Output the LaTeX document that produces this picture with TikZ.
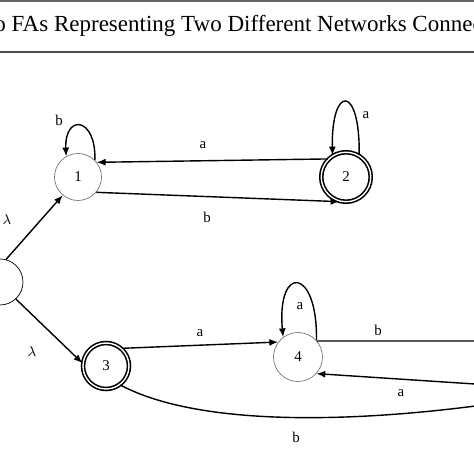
\documentclass[tikz,border=0pt]{standalone}
\usepackage{fontspec}
\setmainfont{Liberation Serif}
\usetikzlibrary{arrows.meta}
\begin{document}
\begin{tikzpicture}[x=0.02cm,y=0.02cm,
  >={Latex[length=5pt,width=4pt]},
  lbl/.style={font=\fontsize{8.5}{10}\selectfont,inner sep=1pt},
  state/.style={circle,draw=black!55,thin,inner sep=0pt,font=\fontsize{8.5}{10}\selectfont},
  accept/.style={circle,draw,line width=0.9pt,double,double distance=0.8pt,inner sep=0pt,font=\fontsize{8.5}{10}\selectfont},
  arc/.style={thick}]
\useasboundingbox (0,0) rectangle (474,474);
\clip (0,0) rectangle (474,474);
% heading
\fill[black!60] (0,472) rectangle (474,474);
\draw[black!70, line width=0.7pt] (0,422) -- (474,422);
\node[anchor=base west, inner sep=0pt, font=\fontsize{13.1}{16}\selectfont] (title) at (-6,442) {o FAs Representing Two Different Networks Connec};
% states
\node[state, draw=black, minimum size=0.92cm] (s) at (0,192) {};
\node[state, minimum size=0.94cm] (1) at (78,297) {1};
\node[accept, minimum size=0.99cm] (2) at (346,297) {2};
\node[accept, minimum size=0.92cm] (3) at (106,108) {3};
\node[state, minimum size=0.98cm] (4) at (298,117) {4};
\coordinate (5a) at (490,133);
\coordinate (5b) at (490,89);
\coordinate (5c) at (490,70);
% labels
\node[lbl] (ls1) at (7,254) {$\lambda$};
\node[lbl] (ls3) at (32,122) {$\lambda$};
\node[lbl] (l11) at (59,354) {b};
\node[lbl] (l21) at (203,329) {a};
\node[lbl] (l12) at (207,257) {b};
\node[lbl] (l22) at (366,359) {a};
\node[lbl] (l34) at (200,141) {a};
\node[lbl] (l44) at (300,168) {a};
\node[lbl] (l45) at (378,144) {b};
\node[lbl] (l54) at (401,81) {a};
\node[lbl] (l35) at (296,37) {b};
% transitions
\draw[arc,->] (s.75)--(1.230);
\draw[arc,->] (s.-47)--(3.173);
\draw[arc,->] (1.45) [out=88, in=92, looseness=3.8] to (1.120);
\draw[arc,->] (2.135)--(1.38);
\draw[arc,->] (1.-40)--(2.-105);
\draw[arc,->] (2.59) [out=89, in=91, looseness=6.8] to (2.122);
\draw[arc,->] (3.48)--(4.143);
\draw[arc,->] (4.42) [out=89, in=95, looseness=5.6] to (4.127);
\draw[arc] (4.40)--(5a);
\draw[arc,->] (5b)--(4.-42);
\draw[arc] (3.-53) [out=-28, in=188, looseness=0.7] to (5c);
\end{tikzpicture}
\end{document}
